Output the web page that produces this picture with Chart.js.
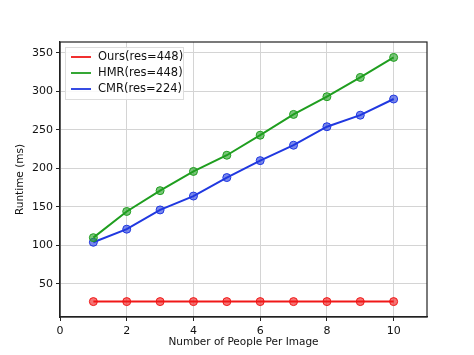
<!DOCTYPE html>
<html lang="en">
<head>
  <meta charset="UTF-8" />
  <title>Runtime vs People</title>
  <script src="https://cdn.jsdelivr.net/npm/chart.js"></script>
  <style>
    html, body { margin: 0; padding: 0; background: #fff; }
    #wrap { width: 474px; height: 355px; }
  </style>
</head>
<body>
  <div id="wrap"><canvas id="grafica"></canvas></div>

  <script>
    const people = [1, 2, 3, 4, 5, 6, 7, 8, 9, 10];
    const ours = [27, 27, 27, 27, 27, 27, 27, 27, 27, 27];
    const hmr = [110, 144, 171, 196, 217, 243, 270, 293, 318, 344];
    const cmr = [104, 121, 146, 164, 188, 210, 230, 254, 269, 290];
    const labels = ['Ours(res=448)', 'HMR(res=448)', 'CMR(res=224)'];
    const colors = ['#f01818', '#1f9e1f', '#2038e0'];

    function serie(i, vals) {
      return {
        label: labels[i],
        data: people.map((p, k) => ({ x: p, y: vals[k] })),
        borderColor: colors[i],
        backgroundColor: colors[i] + '99',
        borderWidth: 2,
        pointRadius: 4,
        pointBorderWidth: 1,
        pointBackgroundColor: colors[i] + '99',
        pointBorderColor: colors[i],
        tension: 0
      };
    }

    // caja del grafico + leyenda dentro del area
    const marco = {
      id: 'marco',
      afterDraw(chart) {
        const { ctx, chartArea: a } = chart;
        ctx.save();
        ctx.strokeStyle = '#222';
        ctx.lineWidth = 1.2;
        ctx.strokeRect(a.left, a.top, a.right - a.left, a.bottom - a.top);

        const x0 = a.left + 5, y0 = a.top + 5;
        ctx.fillStyle = 'rgba(255,255,255,0.85)';
        ctx.strokeStyle = '#dddddd';
        ctx.lineWidth = 1;
        ctx.fillRect(x0, y0, 118, 52);
        ctx.strokeRect(x0 + 0.5, y0 + 0.5, 118, 52);
        ctx.font = '11.5px "DejaVu Sans"';
        ctx.textBaseline = 'middle';
        labels.forEach((t, i) => {
          const y = y0 + 10 + i * 16;
          ctx.strokeStyle = colors[i];
          ctx.lineWidth = 1.8;
          ctx.beginPath();
          ctx.moveTo(x0 + 6, y);
          ctx.lineTo(x0 + 26, y);
          ctx.stroke();
          ctx.fillStyle = '#111';
          ctx.fillText(t, x0 + 33, y);
        });
        ctx.restore();
      }
    };

    const ctx = document.getElementById('grafica').getContext('2d');
    new Chart(ctx, {
      type: 'line',
      data: {
        datasets: [serie(0, ours), serie(1, hmr), serie(2, cmr)]
      },
      options: {
        responsive: true,
        maintainAspectRatio: false,
        animation: false,
        layout: { padding: { left: 14, right: 47, top: 42, bottom: 0 } },
        plugins: { legend: { display: false }, tooltip: { enabled: false } },
        scales: {
          x: {
            type: 'linear',
            min: 0,
            max: 11,
            afterFit: s => { s.height = 38; },
            afterBuildTicks: s => { s.ticks = [0, 2, 4, 6, 8, 10].map(v => ({ value: v })); },
            ticks: { color: '#111', font: { family: 'DejaVu Sans', size: 11 }, padding: 4, maxRotation: 0 },
            grid: { color: '#d4d4d4', lineWidth: 1, tickLength: 4, tickColor: '#222' },
            border: { color: '#222', width: 1.2 },
            title: {
              display: true,
              text: 'Number of People Per Image',
              color: '#111',
              font: { family: 'DejaVu Sans', size: 10.5 },
              padding: { top: 1, bottom: 6 }
            }
          },
          y: {
            min: 7,
            max: 364,
            afterFit: s => { s.width = 46; },
            afterBuildTicks: s => { s.ticks = [50, 100, 150, 200, 250, 300, 350].map(v => ({ value: v })); },
            ticks: { color: '#111', font: { family: 'DejaVu Sans', size: 11 }, padding: 3 },
            grid: { color: '#d4d4d4', lineWidth: 1, tickLength: 4, tickColor: '#222' },
            border: { color: '#222', width: 1.2 },
            title: {
              display: true,
              text: 'Runtime (ms)',
              color: '#111',
              font: { family: 'DejaVu Sans', size: 10.5 },
              padding: { top: 0, bottom: 4 }
            }
          }
        }
      },
      plugins: [marco]
    });
  </script>
</body>
</html>
